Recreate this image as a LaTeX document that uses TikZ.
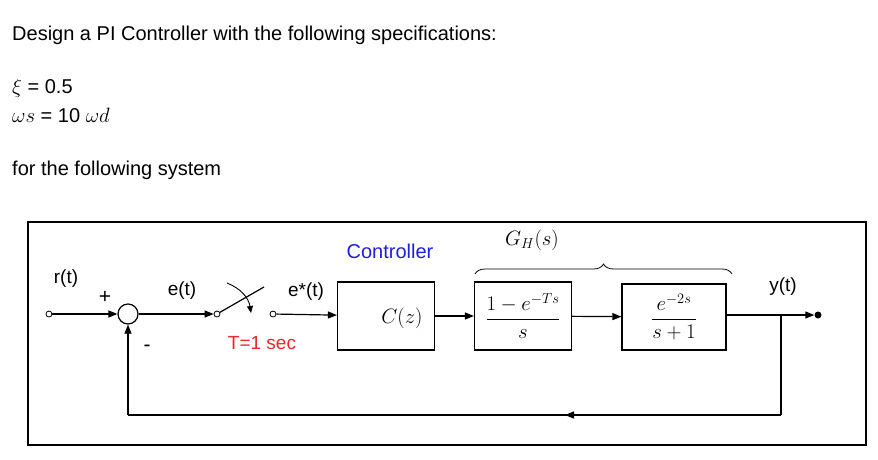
\documentclass[tikz,border=0pt]{standalone}
\usepackage{amsmath}
\usepackage{fontspec}
\setmainfont{Liberation Sans}
\usetikzlibrary{arrows.meta,decorations.pathreplacing}
\definecolor{myblue}{RGB}{30,30,220}
\definecolor{myred}{RGB}{230,40,40}
\begin{document}
\begin{tikzpicture}[x=1pt,y=-1pt,
  lbl/.style={inner sep=0pt,font=\fontsize{19}{22}\selectfont},
  txt/.style={inner sep=0pt,anchor=west,font=\fontsize{20}{24}\selectfont},
  blk/.style={draw,line width=1.2pt,minimum width=97pt,minimum height=68pt,inner sep=0pt,font=\fontsize{20}{24}\selectfont},
  term/.style={circle,draw,fill=white,inner sep=0pt,minimum size=6pt,line width=0.8pt},
  sig/.style={line width=1.2pt,-{Triangle[length=9pt,width=7pt]}},
  ln/.style={line width=1.2pt}]
\useasboundingbox (0,0) rectangle (878,459);
\node[txt] (title) at (12,35) {Design a PI Controller with the following specifications:};
\node[txt] (xi) at (12,88) {$\xi$ = 0.5};
\node[txt] (ws) at (12,115) {$\omega s$ = 10 $\omega d$};
\node[txt] (for) at (12,170) {for the following system};
\draw[line width=1.3pt] (28,222) rectangle (866,445);
\node[term] (in) at (49,314) {};
\node[lbl] (r) at (66,279) {r(t)};
\node[circle,draw,line width=1.2pt,minimum size=20pt,inner sep=0pt] (sum) at (128,314) {};
\node[lbl,font=\fontsize{21}{24}\selectfont] (plus) at (105,297) {+};
\node[lbl,font=\fontsize{21}{24}\selectfont] (minus) at (147,348) {-};
\node[lbl] (e) at (182,291) {e(t)};
\node[term] (s1) at (217,314) {};
\node[term] (s2) at (273,314) {};
\coordinate (sw) at (264,287);
\node[lbl] (es) at (306,292) {e*(t)};
\node[lbl,text=myred] (Tl) at (262,343) {T=1 sec};
\node[blk] (C) at (386,316) {};
\node[lbl,font=\fontsize{20}{24}\selectfont] (Ct) at (402,318) {$C(z)$};
\node[lbl,text=myblue,font=\fontsize{20}{24}\selectfont] (ctl) at (390,251) {Controller};
\node[blk] (H) at (523,316) {$\dfrac{1-e^{-Ts}}{s}$};
\node[blk,minimum width=104pt,minimum height=66pt] (P) at (674,317) {$\dfrac{e^{-2s}}{s+1}$};
\node[lbl,font=\fontsize{20}{24}\selectfont] (GH) at (532,240) {$G_H(s)$};
\node[lbl] (y) at (783,287) {y(t)};
\coordinate (br) at (781,315);
\node[circle,fill,inner sep=0pt,minimum size=7pt] (out) at (818,315) {};
\coordinate (fb1) at (781,415);
\coordinate (fb2) at (128,415);
\draw[decorate,decoration={brace,amplitude=10pt},line width=0.8pt] (475,274) -- (732,274);
\draw[sig] (in) -- (sum);
\draw[sig] (sum) -- (s1);
\draw[ln] (s1) -- (sw);
\draw[line width=0.9pt,-{Triangle[length=7pt,width=6pt]}] (227,283) to[bend left=30] (251,313);
\draw[sig] (s2) -- (C);
\draw[sig] (C) -- (H);
\draw[sig] (H) -- (P);
\draw[ln] (P.east |- br) -- (br);
\draw[sig] (br) -- (out);
\draw[ln] (br) -- (fb1);
\draw[ln] (fb1) -- (fb2);
\draw[sig] (fb1) -- (565,415);
\draw[sig] (fb2) -- (sum);
\end{tikzpicture}
\end{document}
